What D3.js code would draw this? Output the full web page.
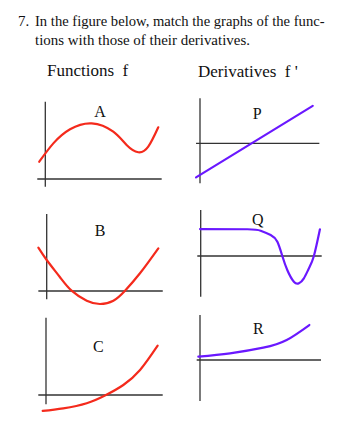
<!DOCTYPE html>
<html><head><meta charset="utf-8">
<script src="https://cdn.jsdelivr.net/npm/d3@7"></script>
<style>html,body{margin:0;padding:0;background:#fff;}</style>
</head><body>
<svg id="c" width="344" height="430"></svg>
<script>
// ---- data ----
const headerLines = ["In the figure below, match the graphs of the func-", "tions with those of their derivatives."];
const questionNumber = "7.";
const columnTitles = ["Functions  f", "Derivatives  f '"];
const panelLabels = ["A", "P", "B", "Q", "C", "R"];
const panelKinds = ["f", "d", "f", "d", "f", "d"];

// curve samples [x, y] in axis units
const curveA = [[-0.55,1.57],[0.73,3.24],[2.25,4.52],[4.22,5.06],[6.18,4.3],[7.39,3.09],[8.45,2.43],[9.36,2.94],[10.27,4.7]];
const curveP = [[-0.36,-3.1],[10.25,3.4]];
const curveB = [[-0.76,3.94],[0,2.82],[1.21,1.25],[2.26,0.03],[3.64,-0.88],[4.85,-1.18],[6.06,-0.88],[7.12,0.03],[8.48,1.61],[10.15,3.88]];
const curveQ = [[-0.06,2.45],[4.24,2.43],[5.45,2.3],[6.36,1.91],[6.97,1.3],[7.42,0],[7.87,-1.27],[8.47,-2.34],[8.93,-2.48],[9.38,-2.03],[9.84,-1.12],[10.29,0],[10.84,2.43]];
const curveC = [[-0.3,-1.45],[1.57,-1.21],[3.7,-0.75],[5.45,0],[7.03,0.91],[8.55,2.27],[10.15,4.48]];
const curveR = [[-0.15,0.3],[2.73,0.61],[5.75,1.12],[7.88,1.82],[9.94,3.18]];
const curves = [curveA, curveP, curveB, curveQ, curveC, curveR];

// axis extents in units: [xmin, xmax, ymin, ymax]
const axisExtents = [
  [-0.73,10.58,-0.7,7.03],
  [-0.36,10.85,-3.64,4.09],
  [-0.76,10.55,-0.75,7.0],
  [-0.31,11.0,-3.7,4.18],
  [-0.7,10.61,-0.85,7.03],
  [-0.3,11.0,-3.73,4.09]
];
// label positions in units [x, y]
const labelPos = [[4.97,5.66],[5.21,2.21],[4.85,5.0],[5.2,2.8],[4.75,3.9],[5.3,2.36]];

// ---- layout ----
const origins = [[45.3,179],[200,143.3],[46.7,291],[200.7,256],[46,395],[200,360]];
const unit = 11;
const colors = {f:"#f42a1c", d:"#6a18ff"};
const headerWidths = [290, 215];

const svg = d3.select("#c");
const serif = "'Liberation Serif','Times New Roman',serif";

svg.append("text").attr("x",18).attr("y",26).attr("font-family",serif).attr("font-size",15).attr("fill","#111").text(questionNumber);
headerLines.forEach((t,i)=>{
  const yy = 26+i*19;
  const txt = svg.append("text").attr("x",0).attr("y",0).attr("font-family",serif).attr("font-size",15)
    .attr("fill","#111").text(t);
  const w = txt.node().getComputedTextLength() || headerWidths[i];
  txt.attr("transform",`translate(35,${yy}) scale(${headerWidths[i]/w},1)`);
});
svg.append("text").attr("x",47).attr("y",76).attr("font-family",serif).attr("font-size",17).attr("fill","#111").style("white-space","pre").text(columnTitles[0]);
svg.append("text").attr("x",198).attr("y",77).attr("font-family",serif).attr("font-size",17).attr("fill","#111").style("white-space","pre").text(columnTitles[1]);

curves.forEach((data,i)=>{
  const [ox,oy] = origins[i];
  const [x0,x1,y0,y1] = axisExtents[i];
  const x = d3.scaleLinear().domain([0,1]).range([ox, ox+unit]);
  const y = d3.scaleLinear().domain([0,1]).range([oy, oy-unit]);
  const g = svg.append("g");
  g.append("line").attr("x1",x(x0)).attr("x2",x(x1)).attr("y1",y(0)).attr("y2",y(0)).attr("stroke","#333").attr("stroke-width",1.3);
  g.append("line").attr("x1",x(0)).attr("x2",x(0)).attr("y1",y(y0)).attr("y2",y(y1)).attr("stroke","#333").attr("stroke-width",1.3);
  const line = d3.line().x(d=>x(d[0])).y(d=>y(d[1])).curve(data.length>2?d3.curveNatural:d3.curveLinear);
  g.append("path").datum(data).attr("d",line).attr("fill","none").attr("stroke",colors[panelKinds[i]]).attr("stroke-width",2.2).attr("stroke-linecap","round");
  g.append("text").attr("x",x(labelPos[i][0])).attr("y",y(labelPos[i][1])).attr("text-anchor","middle").attr("font-family",serif).attr("font-size",16).attr("fill","#111").text(panelLabels[i]);
});
</script>
</body></html>
